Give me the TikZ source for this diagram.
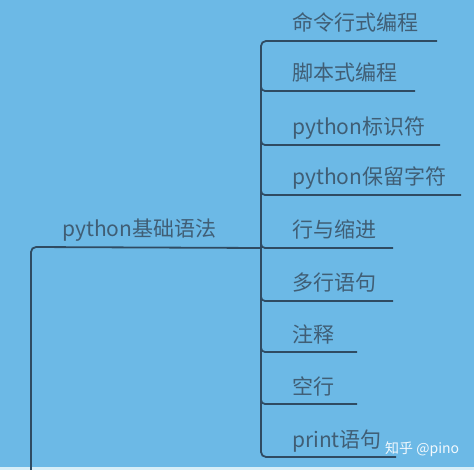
\documentclass[tikz,border=0pt]{standalone}
\usepackage{fontspec}
\newfontfamily\cjk{Noto Sans CJK SC}
\usetikzlibrary{calc,positioning}
\definecolor{bgblue}{HTML}{6CB9E6}
\definecolor{bandblue}{HTML}{D6EEF8}
\definecolor{linegrey}{HTML}{2F4B62}
\definecolor{textgrey}{HTML}{405E75}
\tikzset{branch/.style={linegrey,line width=1.8pt,rounded corners=5pt}}

\begin{document}
\begin{tikzpicture}[x=1pt,y=-1pt]

\tikzset{leaf/.style={font=\cjk\fontsize{21}{21}\selectfont,text=textgrey,inner sep=0pt,anchor=base west},
watermark/.style={font=\cjk\fontsize{14}{14}\selectfont,text=white!92!bgblue,inner sep=0pt,anchor=base west}}

% Background
\fill[bgblue] (0,0) rectangle (474,470);
\fill[bandblue] (0,467) rectangle (474,470);
\useasboundingbox (0,0) rectangle (474,470);

% Child labels and line ends
\foreach \i/\y/\len/\txt in {1/41/437/命令行式编程, 2/91/415/脚本式编程, 3/145/440/python标识符,
  4/195/461/python保留字符, 5/248/393/行与缩进, 6/301/393/多行语句,
  7/352/357/注释, 8/404/357/空行, 9/457/396/print语句}
{
  \coordinate (b\i) at (261,\y);
  \coordinate (e\i) at (\len,\y);
  \node[leaf] (c\i) at (292,\y-10) {\txt};
}

% Root label
\coordinate (rootFoot) at (31,470);
\coordinate (rootCorner) at (31,247);
\node[leaf] (root) at (62,237) {python基础语法};

% Trunk with first and last child
\draw[branch] (e1) -- (b1) -- (b9) -- (e9);

% Middle children
\foreach \i in {2,...,8} \draw[branch,rounded corners=4pt] ([yshift=7pt]b\i) -- (b\i) -- (e\i);

% Root edge
\draw[branch] (rootFoot) -- (rootCorner) -- (b5);

% Watermark
\node[watermark] (wm) at (385,453) {知乎 @pino};

\end{tikzpicture}
\end{document}
